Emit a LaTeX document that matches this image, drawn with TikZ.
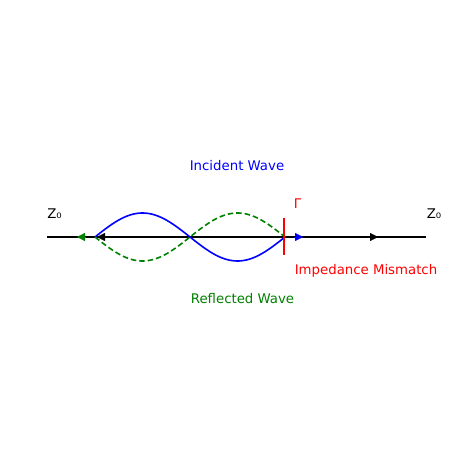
\documentclass[tikz,border=0pt]{standalone}
\usepackage{fontspec}
\setmainfont{DejaVu Sans}
\usetikzlibrary{arrows.meta}
\definecolor{wavegreen}{RGB}{0,128,0}

\begin{document}
\begin{tikzpicture}[x=1bp, y=1bp,
  font=\fontsize{13.3bp}{16bp}\selectfont,
  lab/.style={inner sep=0pt, anchor=center},
  tline/.style={line width=1.6bp, black},
  inc/.style={line width=1.6bp, blue},
  refl/.style={line width=1.6bp, wavegreen, dash pattern=on 5.5bp off 3bp},
  head/.style={-{Triangle[length=8bp, width=8bp]}, line width=0.1bp, shorten >=0pt}]
\useasboundingbox (0,0) rectangle (474,474);
\coordinate (lineL) at (47,237);
\coordinate (lineR) at (426,237);
\coordinate (load) at (284,237);
% transmission line
\draw[tline] (lineL) -- (lineR);
% incident and reflected waves
\draw[inc] plot[domain=0:360, samples=80] ({95+\x/360*190}, {237+24*sin(\x)});
\draw[refl] plot[domain=0:360, samples=80] ({95+\x/360*190}, {237-24*sin(\x)});
% mismatch at the load
\draw[red, line width=2.8bp] ([yshift=19bp]load) -- ([yshift=-18bp]load);
% direction markers
\draw[head, black] (105,237) -- (97,237);
\draw[head, black] (370,237) -- (378,237);
\draw[head, wavegreen] (86,237) -- (77,237);
\draw[head, blue] (294,237) -- (303,237);
% labels
\node[lab, blue] (incident) at (237,308) {Incident Wave};
\node[lab, wavegreen] (reflected) at (242.5,175.5) {Reflected Wave};
\node[lab, red] (mismatch) at (366,203.5) {Impedance Mismatch};
\node[lab, red] (gamma) at (297.5,270) {Γ};
\node[lab] (zleft) at (54.5,260) {Z₀};
\node[lab] (zright) at (434,260) {Z₀};
\end{tikzpicture}
\end{document}
